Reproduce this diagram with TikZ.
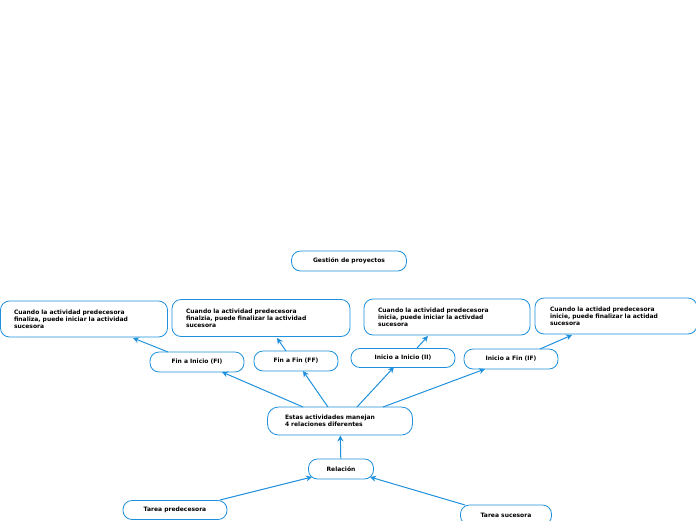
\documentclass[tikz,border=0pt]{standalone}
\usepackage{fontspec}
\setmainfont{DejaVu Sans}
\usetikzlibrary{arrows.meta}
\definecolor{bl}{RGB}{30,144,220}
\begin{document}
\begin{tikzpicture}[x=1pt,y=-1pt,
  box/.style={draw=bl,line width=0.8pt,rounded corners=9pt,fill=white,font=\bfseries\fontsize{6}{7}\selectfont,align=left,inner sep=0pt},
  con/.style={draw=bl,line width=1pt,-{Stealth[length=6pt,width=6pt]}}]
\useasboundingbox (0,0) rectangle (696,520);
\node[box,minimum width=115pt,minimum height=20pt,align=center] (g) at (349,261) {Gestión de proyectos};
\node[box,minimum width=167pt,minimum height=36pt,text width=140pt] (d1) at (84,319) {Cuando la actividad predecesora\\finaliza, puede iniciar la actividad\\sucesora};
\node[box,minimum width=178pt,minimum height=37pt,text width=150pt] (d2) at (261,318) {Cuando la actividad predecesora\\finalzia, puede finalizar la actividad\\sucesora};
\node[box,minimum width=166pt,minimum height=36pt,text width=138pt] (d3) at (447,317) {Cuando la actividad predecesora\\inicia, puede iniciar la activdad\\sucesora};
\node[box,minimum width=162pt,minimum height=36pt,text width=132pt] (d4) at (616,316) {Cuando la actidad predecesora\\inicie, puede finalizar la actidad\\sucesora};
\node[box,minimum width=94pt,minimum height=20pt,align=center] (m1) at (197,362) {Fin a Inicio (FI)};
\node[box,minimum width=84pt,minimum height=20pt,align=center] (m2) at (296,361) {Fin a Fin (FF)};
\node[box,minimum width=104pt,minimum height=19pt,align=center] (m3) at (403,358) {Inicio a Inicio (II)};
\node[box,minimum width=94pt,minimum height=20pt,align=center] (m4) at (511,359) {Inicio a Fin (IF)};
\node[box,minimum width=145pt,minimum height=28pt,rounded corners=11pt,text width=110pt] (e) at (340,421) {Estas actividades manejan\\4 relaciones diferentes};
\node[box,minimum width=65pt,minimum height=20pt,align=center] (r) at (341,469) {Relación};
\node[box,minimum width=104pt,minimum height=19pt,align=center] (tp) at (175,510) {Tarea predecesora};
\node[box,minimum width=91pt,minimum height=20pt,align=center] (ts) at (506,515) {Tarea sucesora};
\draw[con] (303,407) -- (222,372);
\draw[con] (328,407) -- (303,371);
\draw[con] (357,407) -- (394,367);
\draw[con] (383,407) -- (485,369);
\draw[con] (168,352) -- (133,338);
\draw[con] (286,351) -- (277,338);
\draw[con] (417,348) -- (428,336);
\draw[con] (540,349) -- (572,335);
\draw[con] (r) -- (e);
\draw[con] (220,500) -- (312,477);
\draw[con] (465,505) -- (370,477);
\end{tikzpicture}
\end{document}
